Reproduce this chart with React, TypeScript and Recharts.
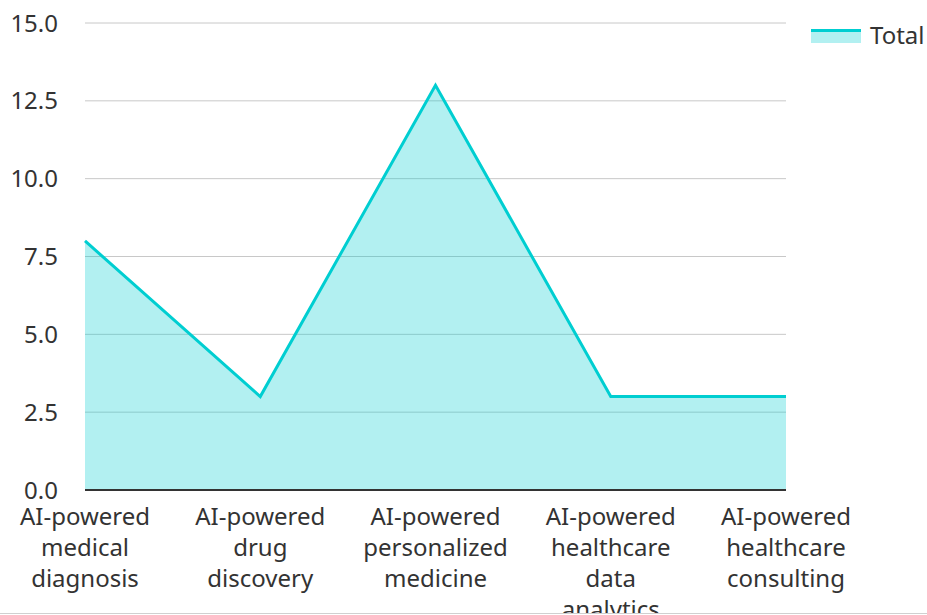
import React from "react";
import {
  AreaChart,
  Area,
  XAxis,
  YAxis,
  CartesianGrid,
} from "recharts";

const categories = [
  "AI-powered medical diagnosis",
  "AI-powered drug discovery",
  "AI-powered personalized medicine",
  "AI-powered healthcare data analytics",
  "AI-powered healthcare consulting",
];
const totals = [8, 3, 13, 3, 3];
const yTicks = [0, 2.5, 5, 7.5, 10, 12.5, 15];

const data = categories.map((name, i) => ({ name, Total: totals[i] }));

const TEAL = "#00CED1";
const FONT = "'Noto Sans', sans-serif";

function WrappedTick(props: any) {
  const { x, y, payload } = props;
  const words = String(payload.value).split(" ");
  return (
    <g transform={`translate(${x},${y})`}>
      <text
        textAnchor="middle"
        fill="#333"
        fontSize={24}
        fontFamily={FONT}
      >
        {words.map((w, i) => (
          <tspan key={i} x={0} dy={i === 0 ? 27 : 31}>
            {w}
          </tspan>
        ))}
      </text>
    </g>
  );
}

export default function App() {
  return (
    <div
      style={{
        position: "absolute",
        left: 0,
        top: 0,
        width: 927,
        height: 613,
        overflow: "hidden",
        borderBottom: "1px solid #d0d0d0",
        background: "#fff",
        fontFamily: FONT,
      }}
    >
      <AreaChart
        width={927}
        height={613}
        data={data}
        margin={{ top: 23, right: 141, left: 0, bottom: 0 }}
      >
        <CartesianGrid vertical={false} stroke="#c8c8c8" />
        <XAxis
          dataKey="name"
          height={123}
          interval={0}
          tickLine={false}
          axisLine={{ stroke: "#333", strokeWidth: 2 }}
          tick={<WrappedTick />}
        />
        <YAxis
          width={85}
          domain={[0, 15]}
          ticks={yTicks}
          axisLine={false}
          tickLine={false}
          tickMargin={21}
          tickFormatter={(v: number) => v.toFixed(1)}
          tick={{ fill: "#333", fontSize: 24, fontFamily: FONT }}
        />
        <Area
          type="linear"
          dataKey="Total"
          stroke={TEAL}
          strokeWidth={3}
          fill={TEAL}
          fillOpacity={0.3}
          dot={false}
          activeDot={false}
          isAnimationActive={false}
        />
      </AreaChart>
      <div
        style={{
          position: "absolute",
          left: 811,
          top: 18,
          display: "flex",
          alignItems: "center",
          color: "#333",
          fontSize: 24,
        }}
      >
        <div style={{ width: 50, height: 14, marginRight: 9, marginTop: 2 }}>
          <div style={{ height: 3, background: TEAL }} />
          <div style={{ height: 11, background: "#b2f0f1" }} />
        </div>
        <span>Total</span>
      </div>
    </div>
  );
}
